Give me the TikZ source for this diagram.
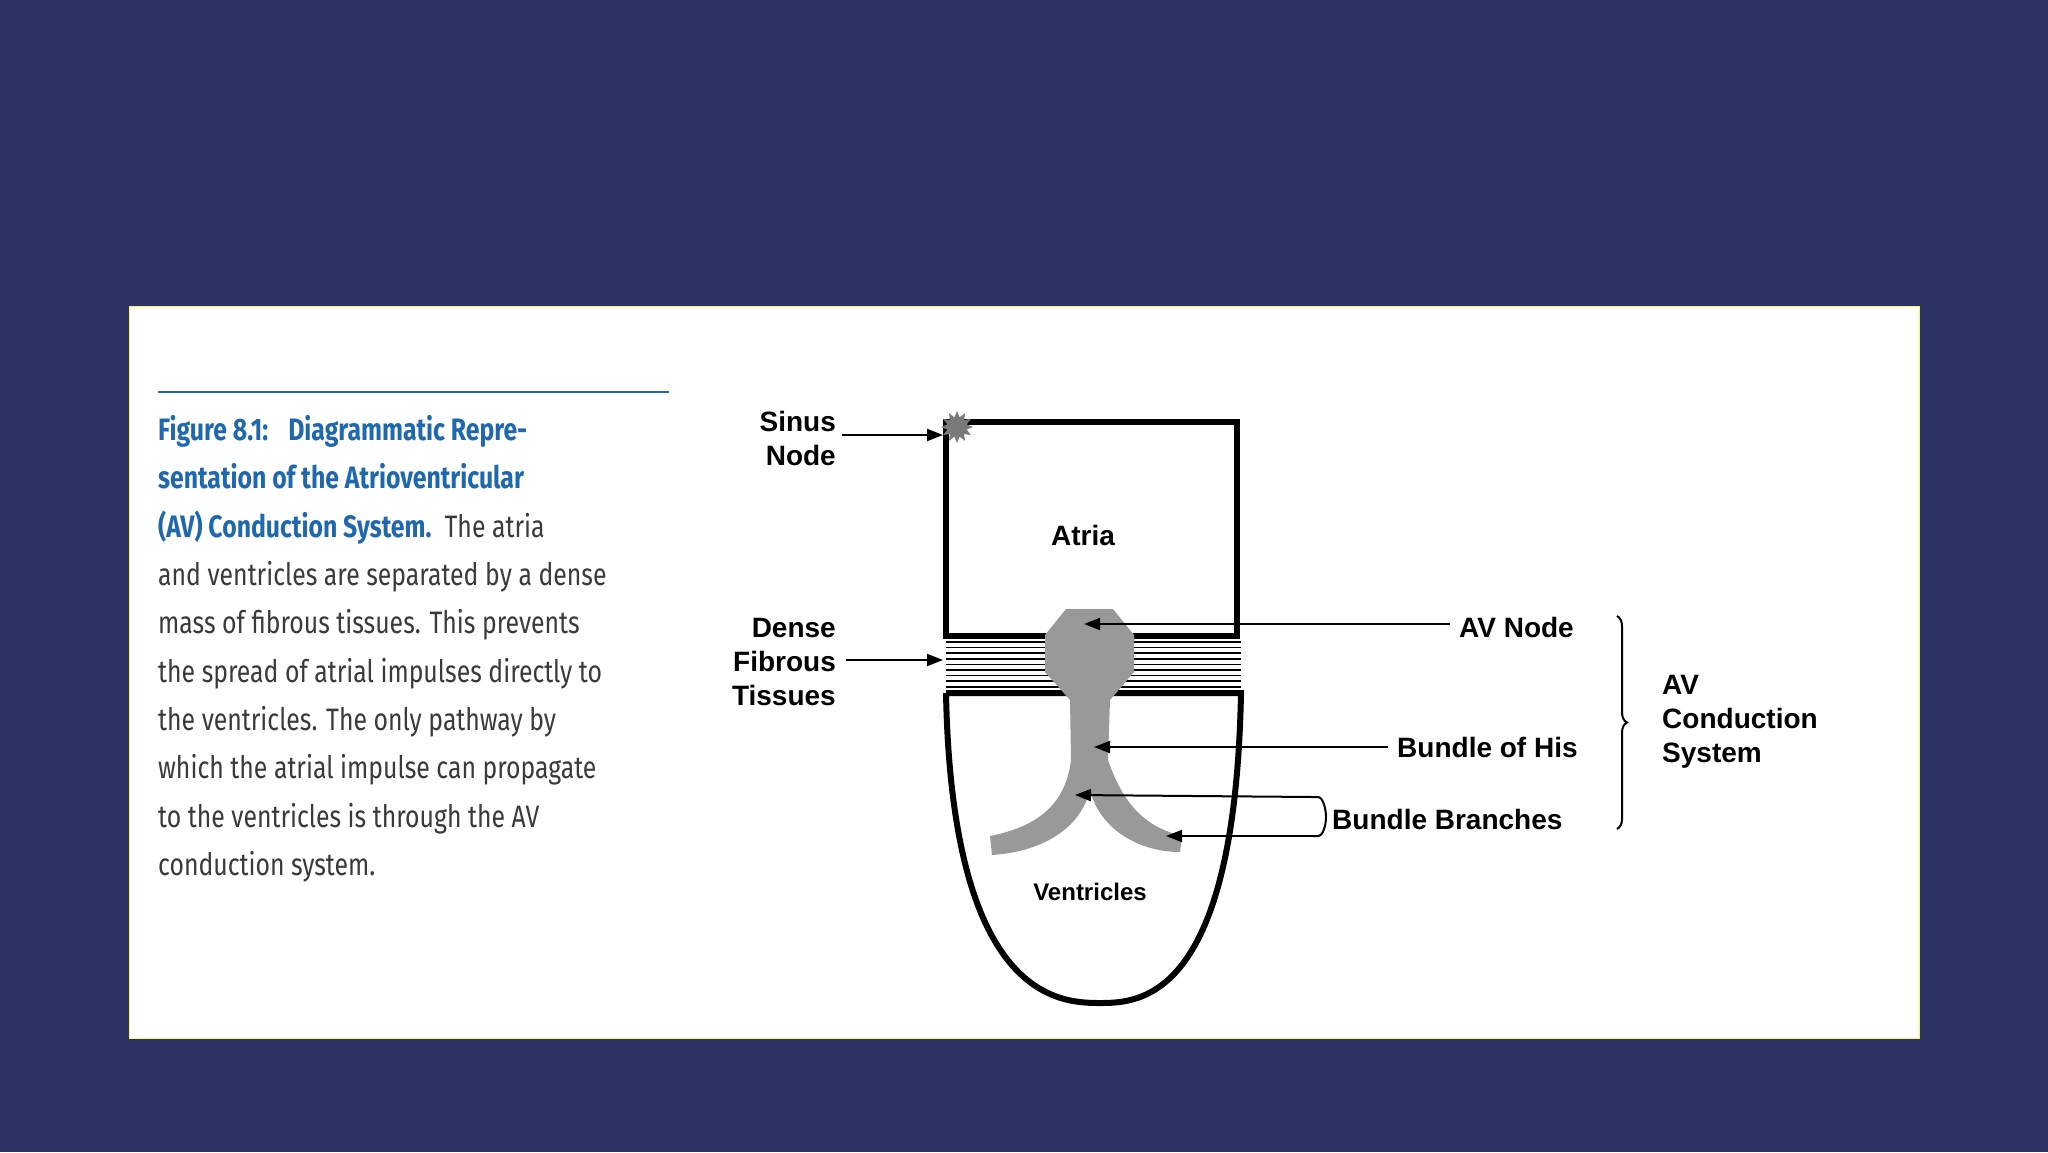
\documentclass[tikz,border=0pt]{standalone}
\usepackage{fontspec}
\setmainfont{Liberation Sans}
\newfontfamily\capfont[FakeStretch=0.80]{Fira Sans}
\usetikzlibrary{arrows.meta,decorations.pathreplacing}
\definecolor{navy}{HTML}{2E3366}
\definecolor{capblue}{HTML}{1F68AE}
\definecolor{captext}{HTML}{3A3A3A}
\definecolor{tissue}{HTML}{999999}
\tikzset{
  lbl/.style={font=\fontsize{28}{34}\selectfont\bfseries, text=black, inner sep=0pt},
  captxt/.style={font=\capfont\fontsize{31}{36}\selectfont, text=captext, anchor=base west, inner sep=0pt},
  ptr/.style={line width=2pt, -{Triangle[length=16pt,width=12pt]}},
  wall/.style={line width=6pt},
}
\begin{document}
\begin{tikzpicture}[x=1pt,y=-1pt]
\fill[navy] (0,0) rectangle (2048,1152);
\useasboundingbox (0,0) rectangle (2048,1152);
\fill[white,draw={yellow!70!white},line width=1pt] (129,306) rectangle (1919,1038);
% caption
\draw[capblue,line width=1.5pt] (158,392) -- (669,392);
\def\bb#1{{\bfseries\color{capblue}#1}}
\node[captxt] (c1) at (158,440) {\bb{Figure 8.1:\hspace{20pt}Diagrammatic Repre-}};
\node[captxt] (c2) at (158,488) {\bb{sentation of the Atrioventricular}};
\node[captxt] (c3) at (158,537) {\bb{(AV) Conduction System.}\ \ The atria};
\node[captxt] (c4) at (158,585) {and ventricles are separated by a dense};
\node[captxt] (c5) at (158,633) {mass of fibrous tissues. This prevents};
\node[captxt] (c6) at (158,682) {the spread of atrial impulses directly to};
\node[captxt] (c7) at (158,730) {the ventricles. The only pathway by};
\node[captxt] (c8) at (158,778) {which the atrial impulse can propagate};
\node[captxt] (c9) at (158,827) {to the ventricles is through the AV};
\node[captxt] (c10) at (158,875) {conduction system.};
% tissue stripes
\foreach \i in {0,...,8} \draw[line width=1.6pt] (946,{642+\i*5.6}) -- (1241,{642+\i*5.6});
% atria
\draw[wall] (946,422) rectangle (1237,636);
\node[lbl] (atria) at (1083,535) {Atria};
% ventricles
\draw[wall] (946,693) -- (1241,693) .. controls (1235,1000) and (1140,1003) .. (1100,1003)
  .. controls (1060,1003) and (952,1000) .. (946,693);
\node[lbl,font=\fontsize{24}{28}\selectfont\bfseries] (vent) at (1090,892) {Ventricles};
% conduction tissue
\fill[tissue] (1066,609) -- (1113,609) -- (1134,635) -- (1134,672) -- (1110,700)
  -- (1108,760) .. controls (1125,810) and (1150,828) .. (1182,836) -- (1180,852)
  .. controls (1140,852) and (1100,830) .. (1090,790)
  .. controls (1080,830) and (1040,852) .. (992,855) -- (990,836)
  .. controls (1030,828) and (1065,810) .. (1071,760)
  -- (1070,700) -- (1045,672) -- (1045,635) -- cycle;
\coordinate (avn) at (1084,624);
\coordinate (his) at (1094,747);
\coordinate (bb1) at (1075,795);
\coordinate (bb2) at (1166,836);
% sinus node
\fill[tissue!80!black] (957,427) +(0:16)
  \foreach \a in {15,30,...,345} { -- +(\a:{mod(\a,30)==0 ? 16 : 10}) } -- cycle;
\coordinate (sn) at (943,435);
\coordinate (dft) at (943,660);
% labels
\node[lbl,align=right,anchor=east] (sinus) at (836,438) {Sinus\\Node};
\node[lbl,align=right,anchor=east] (dense) at (836,662) {Dense\\Fibrous\\Tissues};
\node[lbl,anchor=west] (avl) at (1459,627) {AV Node};
\node[lbl,anchor=west] (hisl) at (1397,747) {Bundle of His};
\node[lbl,anchor=west] (bbl) at (1332,819) {Bundle Branches};
\node[lbl,anchor=west,align=left] (avcs) at (1662,722) {AV\\Conduction\\System};
\draw[ptr] (sinus.east|-sn) ++(6,0) -- (sn);
\draw[ptr] (dense.east|-dft) ++(10,0) -- (dft);
\draw[ptr] (avl.west|-avn) ++(-9,0) -- (avn);
\draw[ptr] (hisl.west) ++(-9,0) -- (his);
\coordinate (bk1) at (1313,797);
\coordinate (bk2) at (1313,836);
\draw[ptr] (bk1) -- (bb1);
\draw[ptr] (bk2) -- (bb2);
\draw[line width=2pt] (bk1) -- ++(5,0) .. controls ++(5,0) and ++(0,-8) .. ++(8,20) .. controls ++(0,8) and ++(5,0) .. ++(-8,19) -- (bk2);
\draw[line width=2pt,decorate,decoration={brace,amplitude=10pt}] (1617,616) -- (1617,829);
\end{tikzpicture}
\end{document}
